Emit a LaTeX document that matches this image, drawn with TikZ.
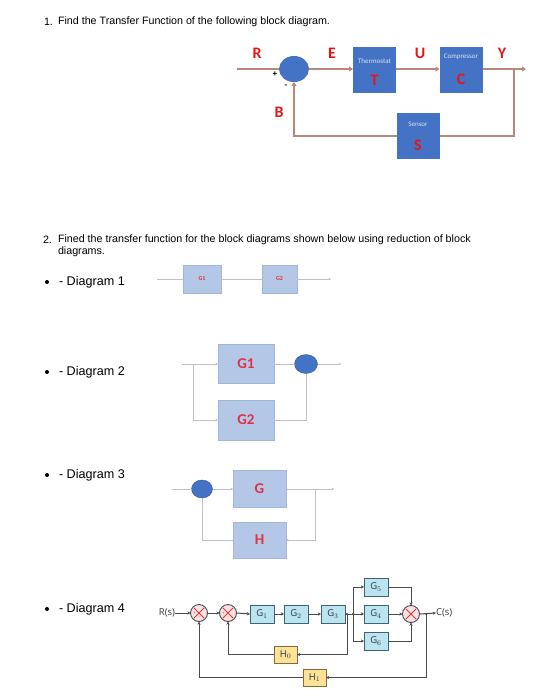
\documentclass[tikz,border=0pt]{standalone}
\usepackage{fontspec}
\setmainfont{Liberation Sans}
\newfontfamily\calfont{Carlito}
\newfontfamily\opfont{Open Sans}
\usetikzlibrary{arrows.meta,shapes.geometric}
\definecolor{tblue}{RGB}{68,114,196}
\definecolor{tred}{RGB}{232,20,20}
\definecolor{tbrown}{RGB}{185,135,118}
\definecolor{lblue}{RGB}{180,199,231}
\definecolor{lblueb}{RGB}{160,182,220}
\definecolor{lgray}{RGB}{190,192,198}
\definecolor{gred}{RGB}{222,50,70}
\definecolor{dgray}{RGB}{75,75,75}
\definecolor{tgray}{RGB}{50,55,60}
\definecolor{cyanf}{RGB}{185,228,240}
\definecolor{cyanb}{RGB}{60,100,115}
\definecolor{yelf}{RGB}{252,226,150}
\definecolor{yelb}{RGB}{130,110,60}
\definecolor{pinkf}{RGB}{250,226,226}
\definecolor{xred}{RGB}{215,60,60}
\begin{document}
\begin{tikzpicture}[x=1pt,y=-1pt,
  every node/.style={inner sep=0pt, outer sep=0pt},
  body/.style={anchor=west, font=\fontsize{10.7}{12}\selectfont},
  dlabel/.style={anchor=west, font=\fontsize{12.6}{14}\selectfont},
  bul/.style={circle, fill=black, minimum size=4pt},
  tbox/.style={rectangle, fill=tblue, minimum width=43, minimum height=46},
  tsmall/.style={font=\calfont\fontsize{7}{7}\selectfont, text=white!80!tblue},
  tletter/.style={font=\calfont\bfseries\fontsize{16}{18}\selectfont, text=tred},
  tline/.style={draw=tbrown, line width=2.6pt},
  tarrow/.style={tline, -{Triangle[length=4pt,width=5pt]}},
  tsum/.style={ellipse, fill=tblue, minimum width=30, minimum height=26},
  lbox/.style={rectangle, fill=lblue, draw=lblueb, line width=0.6pt},
  lline/.style={draw=lgray, line width=0.9pt},
  larrow/.style={lline, -{Stealth[length=2.5pt,width=2.5pt]}},
  lsum/.style={ellipse, fill=tblue, draw=tblue!80!black, line width=0.4pt},
  glab/.style={font=\calfont\bfseries\fontsize{15}{17}\selectfont, text=gred},
  cbox/.style={rectangle, fill=cyanf, draw=cyanb, line width=0.9pt, minimum width=24, minimum height=18, font=\opfont\fontsize{9.5}{10}\selectfont, text=tgray},
  hbox/.style={rectangle, fill=yelf, draw=yelb, line width=0.9pt, minimum width=23, minimum height=17, font=\opfont\fontsize{9.5}{10}\selectfont, text=tgray},
  dline/.style={draw=dgray, line width=1pt},
  darrow/.style={dline, -{Stealth[length=3.2pt,width=3.2pt]}},
  dsum/.style={circle, fill=pinkf, draw=dgray, line width=0.9pt, minimum size=17},
  jdot/.style={circle, fill=dgray, minimum size=2.4pt}
]
\useasboundingbox (0,0) rectangle (542,700);
\fill[white] (0,0) rectangle (542,700);

% ---------- headings ----------
\node[body] (n1) at (44,22) {1.};
\node[body] (t1) at (58,22) {Find the Transfer Function of the following block diagram.};
\node[body] (n2) at (43,240) {2.};
\node[body] (t2a) at (58,240) {Fined the transfer function for the block diagrams shown below using reduction of block};
\node[body] (t2b) at (58,252) {diagrams.};

\node[bul] (b1) at (47,282) {};
\node[dlabel] (d1) at (59,282) {- Diagram 1};
\node[bul] (b2) at (47,372) {};
\node[dlabel] (d2) at (59,372) {- Diagram 2};
\node[bul] (b3) at (47,475) {};
\node[dlabel] (d3) at (59,475) {- Diagram 3};
\node[bul] (b4) at (47,609) {};
\node[dlabel] (d4) at (59,609) {- Diagram 4};

% ---------- top diagram ----------
\coordinate (rin) at (237,69);
\node[tsum] (s0) at (294,69) {};
\node[tbox] (T) at (374.5,70) {};
\node[tsmall] (Tl) at (374.5,61) {Thermostat};
\node[tletter] (Tt) at (374.5,80) {T};
\node[tbox] (C) at (461,70) {};
\node[tsmall] (Cl) at (461,57) {Compressor};
\node[tletter] (Ct) at (461,79) {C};
\node[tbox] (S) at (418,136) {};
\node[tsmall] (Sl) at (418,124) {Sensor};
\node[tletter] (St) at (418,145) {S};
\coordinate (yb) at (514,69);
\coordinate (yout) at (526,69);
\coordinate (fbl) at (s0.south |- S.center);
\coordinate (fbr) at (yb |- S.center);

\draw[tline] (rin) -- (s0.west);
\draw[tarrow] (s0.east) -- (T.west |- s0.east);
\draw[tarrow] (T.east |- s0.east) -- (C.west |- s0.east);
\draw[tarrow] (C.east |- s0.east) -- (yout);
\draw[tline] (yb) -- (fbr) -- (S.east);
\draw[tarrow] (S.west) -- (fbl) -- (s0.south);

\node[tletter] (lR) at (257,53) {R};
\node[tletter] (lE) at (332,53) {E};
\node[tletter] (lU) at (420,53) {U};
\node[tletter] (lY) at (502,53) {Y};
\node[tletter] (lB) at (279,112) {B};
\node[font=\bfseries\fontsize{8}{8}\selectfont] (pl) at (275,74) {+};
\node[font=\bfseries\fontsize{8}{8}\selectfont] (mi) at (286,86) {-};

% ---------- diagram 1 ----------
\coordinate (a1) at (157,279);
\node[lbox, minimum width=38, minimum height=28, font=\calfont\bfseries\fontsize{6}{6}\selectfont, text=gred] (g1a) at (202,279) {G1};
\node[lbox, minimum width=35, minimum height=28, font=\calfont\bfseries\fontsize{6}{6}\selectfont, text=gred] (g2a) at (279.5,279) {G2};
\coordinate (a2) at (331,279);
\draw[lline] (a1) -- (g1a.west);
\draw[lline] (g1a.east) -- (g2a.west);
\draw[larrow] (g2a.east) -- (a2);

% ---------- diagram 2 ----------
\coordinate (b2in) at (182,364);
\coordinate (b2j) at (193,364);
\node[lbox, minimum width=56, minimum height=39, glab] (g1b) at (246,364) {G1};
\node[lbox, minimum width=56, minimum height=40, glab] (g2b) at (246,420) {G2};
\node[lsum, minimum width=23, minimum height=19] (s2) at (306,364) {};
\coordinate (b2out) at (341,364);
\coordinate (b2c) at (b2j |- g2b.west);
\coordinate (b2d) at (s2.south |- g2b.east);
\draw[larrow] (b2in) -- (g1b.west);
\draw[larrow] (b2j) -- (b2c) -- (g2b.west);
\draw[lline] (g1b.east) -- (s2.west);
\draw[lline] (g2b.east) -- (b2d) -- (s2.south);
\draw[larrow] (s2.east) -- (b2out);

% ---------- diagram 3 ----------
\coordinate (c3in) at (172,489);
\node[lsum, minimum width=21, minimum height=18] (s3) at (202,489) {};
\node[lbox, minimum width=53, minimum height=37, glab] (gc) at (259.5,489) {G};
\node[lbox, minimum width=53, minimum height=36, glab] (hc) at (259.5,540) {H};
\coordinate (c3j) at (315,489);
\coordinate (c3out) at (334,489);
\coordinate (c3a) at (c3j |- hc.east);
\coordinate (c3b) at (s3.south |- hc.west);
\draw[lline] (c3in) -- (s3.west);
\draw[larrow] (s3.east) -- (gc.west);
\draw[larrow] (gc.east) -- (c3out);
\draw[larrow] (c3j) -- (c3a) -- (hc.east);
\draw[lline] (hc.west) -- (c3b) -- (s3.south);

% ---------- diagram 4 ----------
\node[font=\opfont\fontsize{9.5}{10}\selectfont, text=tgray, anchor=east] (Rs) at (175,613) {R(s)};
\node[dsum] (e1) at (199,613) {};
\node[dsum] (e2) at (228,613) {};
\node[cbox] (G1) at (262,614) {G$_1$};
\node[cbox] (G2) at (296,614) {G$_2$};
\node[cbox] (G3) at (333,614) {G$_3$};
\node[cbox] (G5) at (376,587) {G$_5$};
\node[cbox] (G4) at (376,614) {G$_4$};
\node[cbox] (G6) at (376,641) {G$_6$};
\node[dsum] (e3) at (411,614) {};
\node[hbox] (H0) at (285.5,654.5) {H$_0$};
\node[hbox] (H1) at (314.5,677.5) {H$_1$};
\node[font=\opfont\fontsize{9.5}{10}\selectfont, text=tgray, anchor=west] (Cs) at (436,613) {C(s)};

\foreach \e in {e1,e2,e3}{
  \draw[xred, line width=0.8pt] ([shift={(1pt,-1pt)}]\e.north west) -- ([shift={(-1pt,1pt)}]\e.south east);
  \draw[xred, line width=0.8pt] ([shift={(-1pt,-1pt)}]\e.north east) -- ([shift={(1pt,1pt)}]\e.south west);
}
\node[font=\fontsize{4}{4}\selectfont, text=dgray] (e1p) at ([xshift=-4.5pt]e1.center) {+};
\node[font=\fontsize{4}{4}\selectfont, text=dgray] (e1m) at ([yshift=-4.5pt]e1.center) {-};
\node[font=\fontsize{4}{4}\selectfont, text=dgray] (e2p) at ([xshift=-4.5pt]e2.center) {+};
\node[font=\fontsize{4}{4}\selectfont, text=dgray] (e2m) at ([yshift=-4.5pt]e2.center) {-};

\coordinate (j1) at (347,614);
\coordinate (j2) at (353,614);
\coordinate (j3) at (426,614);
\node[jdot] (jd1) at (j1) {};
\node[jdot] (jd2) at (j2) {};
\node[jdot] (jd3) at (j3) {};

\draw[darrow] (Rs.east) -- (e1.west);
\draw[darrow] (e1.east) -- (e2.west);
\draw[darrow] (e2.east) -- (G1.west);
\draw[darrow] (G1.east) -- (G2.west);
\draw[darrow] (G2.east) -- (G3.west);
\draw[dline] (G3.east) -- (j2);
\draw[darrow] (j2) -- (G4.west);
\draw[darrow] (j2) |- (G5.west);
\draw[darrow] (j2) |- (G6.west);
\draw[darrow] (G4.east) -- (e3.west);
\draw[darrow] (G5.east) -| (e3.north);
\draw[darrow] (G6.east) -| (e3.south);
\draw[darrow] (e3.east) -- (Cs.west);
\draw[darrow] (j1) |- (H0.east);
\draw[darrow] (H0.west) -| (e2.south);
\draw[darrow] (j3) |- (H1.east);
\draw[darrow] (H1.west) -| (e1.south);
\end{tikzpicture}
\end{document}
